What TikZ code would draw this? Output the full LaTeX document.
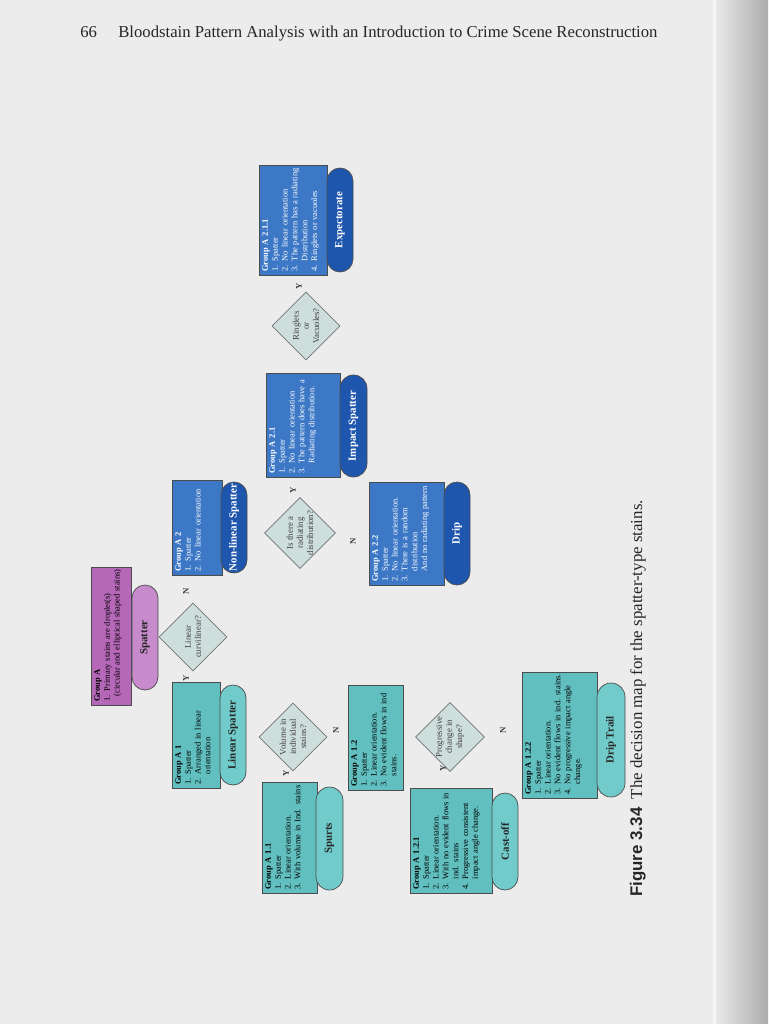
\documentclass[tikz,border=0pt]{standalone}
\usepackage{fontspec}
\setmainfont{Liberation Serif}
\newfontfamily\capsans{Liberation Sans}
\usetikzlibrary{shapes.geometric,shapes.misc}
\pgfdeclarelayer{bg}\pgfsetlayers{bg,main}
\definecolor{pagebg}{HTML}{ECECEC}
\definecolor{purbox}{HTML}{B567B8}
\definecolor{purpill}{HTML}{C78BCB}
\definecolor{tealbox}{HTML}{62BFBF}
\definecolor{tealpill}{HTML}{72CBCB}
\definecolor{bluebox}{HTML}{3D78C6}
\definecolor{bluepill}{HTML}{1F56AD}
\definecolor{diafill}{HTML}{CEDEDC}
\definecolor{lin}{HTML}{555555}
\newcommand\boxfont{\fontsize{4.8}{5.6}\selectfont\hyphenpenalty=10000\relax}
\newcommand\bx[8]{%
 \pgfmathsetmacro\bw{(#4-#2)*0.02}\pgfmathsetmacro\bh{(#5-#3)*0.02}\pgfmathsetmacro\tw{(#5-#3)*0.02-0.08}%
 \node[draw=black!70, fill=#6, line width=0.4pt, minimum width=\bw cm, minimum height=\bh cm, inner sep=0pt] (#1) at ({(#2+#4)/2},{(#3+#5)/2}) {};%
 \node[rotate=90, anchor=north west, text width=\tw cm, inner sep=0pt, align=left, font=\boxfont, text=#7] at (#2+3,#5-3) {#8};}
\newcommand\pl[8]{%
 \pgfmathsetmacro\bw{(#4-#2)*0.02}\pgfmathsetmacro\bh{(#5-#3)*0.02}%
 \node[rounded rectangle, rotate=90, draw=black!70, fill=#6, text=#7, minimum width=\bh cm, minimum height=\bw cm, inner sep=0pt, font=\fontsize{6.2}{6.5}\selectfont\bfseries] (#1) at ({(#2+#4)/2},{(#3+#5)/2}) {#8};}
\newcommand\dm[4]{%
 \node[diamond, aspect=1, rotate=90, draw=black!55, fill=diafill, minimum size=1.36cm, inner sep=0pt, align=center, text=black!75, font=\fontsize{5}{5.8}\selectfont] (#1) at (#2,#3) {#4};}
\tikzset{conn/.style={draw=lin, line width=0.6pt}, yn/.style={rotate=90, font=\fontsize{5}{5}\selectfont\bfseries, text=black!75, inner sep=0pt}}
\begin{document}
\begin{tikzpicture}[x=0.02cm,y=-0.02cm]
\useasboundingbox (0,0) rectangle (768,1024);
\fill[pagebg] (0,0) rectangle (768,1024);
\shade[left color=white!85!gray, right color=gray!65] (713,0) rectangle (768,1024);
\fill[white!92!gray] (713,0) rectangle (716,1024);
% header
\node[anchor=base west, font=\fontsize{9.5}{10}\selectfont, text=black!85, inner sep=0pt] (pg) at (80,38) {66};
\node[anchor=base west, font=\fontsize{9.5}{10}\selectfont, text=black!85, inner sep=0pt] (ttl) at (118,38) {Bloodstain Pattern Analysis with an Introduction to Crime Scene Reconstruction};
% caption
\node[rotate=90, anchor=base west, inner sep=0pt, font=\fontsize{9.6}{11}\selectfont, text=black!85] (cap) at (642,897) {{\capsans\bfseries Figure 3.34}\ \ The decision map for the spatter-type stains.};
% boxes
\bx{ga}{91}{567}{131}{705}{purbox}{black}{\textbf{Group A}\\1. Primary stains are droplet(s)\\\hspace*{3pt}(circular and elliptical shaped stains)}
\pl{sp}{132}{585}{158}{690}{purpill}{black!85}{Spatter}
\dm{d1}{193}{637}{Linear\\curvilinear?}
\bx{ga2}{172}{480}{222}{575}{bluebox}{white}{\textbf{Group A 2}\\1. Spatter\\2. No linear orientation}
\pl{ns}{221}{482}{247}{573}{bluepill}{white}{Non-linear Spatter}
\bx{ga1}{172}{682}{220}{788}{tealbox}{black}{\textbf{Group A 1}\\1. Spatter\\2. Arranged in linear\\\hspace*{6pt}orientation}
\pl{ls}{220}{685}{246}{785}{tealpill}{black!85}{Linear Spatter}
\dm{d2}{293}{737}{Volume in\\individual\\stains?}
\bx{ga11}{262}{782}{317}{893}{tealbox}{black}{\textbf{Group A 1.1}\\1. Spatter\\2. Linear orientation.\\3. With volume in Ind. stains}
\pl{spu}{316}{787}{343}{890}{tealpill}{black!85}{Spurts}
\bx{ga12}{348}{685}{403}{790}{tealbox}{black}{\textbf{Group A 1.2}\\1. Spatter\\2. Linear orientation.\\3. No evident flows in ind\\\hspace*{6pt}stains.}
\dm{d5}{450}{737}{Progressive\\change in\\shape?}
\bx{ga121}{410}{788}{492}{893}{tealbox}{black}{\textbf{Group A 1.2.1}\\1. Spatter\\2. Linear orientation.\\3. With no evident flows in\\\hspace*{6pt}ind. stains\\4. Progressive consistent\\\hspace*{6pt}impact angle change.}
\pl{co}{492}{793}{518}{890}{tealpill}{black!85}{Cast-off}
\bx{ga122}{522}{672}{597}{798}{tealbox}{black}{\textbf{Group A 1.2.2}\\1. Spatter\\2. Linear orientation.\\3. No evident flows in ind. stains.\\4. No progressive impact angle\\\hspace*{6pt}change.}
\pl{dt}{597}{683}{625}{797}{tealpill}{black!85}{Drip Trail}
\dm{d3}{300}{533}{Is there a\\radiating\\distribution?}
\bx{ga21}{266}{373}{340}{477}{bluebox}{white}{\textbf{Group A 2.1}\\1. Spatter\\2. No linear orientation\\3. The pattern does have a\\\hspace*{6pt}Radiating distribution.}
\pl{is}{340}{375}{367}{477}{bluepill}{white}{Impact Spatter}
\bx{ga22}{369}{482}{444}{585}{bluebox}{white}{\textbf{Group A 2.2}\\1. Spatter\\2. No linear orientation.\\3. There is a random\\\hspace*{6pt}distribution\\\hspace*{6pt}And no radiating pattern}
\pl{dr}{444}{482}{470}{585}{bluepill}{white}{Drip}
\dm{d4}{306}{326}{Ringlets\\or\\Vacuoles?}
\bx{ga211}{259}{165}{327}{275}{bluebox}{white}{\textbf{Group A 2.1.1}\\1. Spatter\\2. No linear orientation\\3. The pattern has a radiating\\\hspace*{6pt}Distribution\\4. Ringlets or vacuoles}
\pl{ex}{327}{168}{353}{272}{bluepill}{white}{Expectorate}
\coordinate (c1) at (421,325);
% connectors
\begin{pgfonlayer}{bg}
\draw[conn] (d1.center) -- (d1.center |- ga2.center);
\draw[conn] (d1.center) -- (d1.center |- ga1.center);
\draw[conn] (d3.center) -- (d3.center -| ns.center);
\draw[conn] (d3.center) -- (d3.center |- ga21.center);
\draw[conn] (d3.center) -- (d3.center -| ga22.center);
\draw[conn] (d4.center) -- (d4.center |- ga21.center);
\draw[conn] (d4.center) -- (d4.center |- ga211.center);
\draw[conn] (d4.center) -- (c1) -- (c1 |- ga22.center);
\draw[conn] (d2.center) -- (d2.center -| ls.center);
\draw[conn] (d2.center) -- (d2.center |- ga11.center);
\draw[conn] (d2.center) -- (d2.center -| ga12.center);
\draw[conn] (d5.center) -- (d5.center -| ga12.center);
\draw[conn] (d5.center) -- (d5.center |- ga121.center);
\draw[conn] (d5.center) -- (d5.center -| ga122.center);
\end{pgfonlayer}
\node[yn] (l1) at (186,591) {N};
\node[yn] (l2) at (186,678) {Y};
\node[yn] (l3) at (293,490) {Y};
\node[yn] (l4) at (353,541) {N};
\node[yn] (l5) at (299,286) {Y};
\node[yn] (l6) at (286,773) {Y};
\node[yn] (l7) at (336,730) {N};
\node[yn] (l8) at (443,768) {Y};
\node[yn] (l9) at (503,730) {N};
\end{tikzpicture}
\end{document}
